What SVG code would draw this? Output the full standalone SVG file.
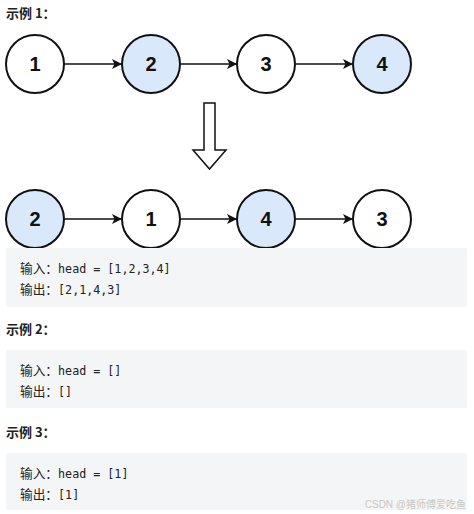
<svg xmlns="http://www.w3.org/2000/svg" width="474" height="514" viewBox="0 0 474 514">
<defs>
<style>
.h{font-family:"Noto Sans CJK SC","Liberation Sans",sans-serif;font-weight:bold;font-size:13px;fill:#222}
.n{stroke:#111;stroke-width:2}
.w{fill:#fff}
.b{fill:#dae8fc}
.nt{font-family:"Liberation Sans",Arial,sans-serif;font-weight:bold;font-size:20px;fill:#111;text-anchor:middle}
.e{stroke:#111;stroke-width:1.5;fill:none;marker-end:url(#ah)}
.box{fill:#f4f5f6}
.c{font-family:"DejaVu Sans Mono","Noto Sans CJK SC",monospace;font-size:11.7px;fill:#222}
.cj{font-family:"Noto Sans CJK SC",sans-serif;font-size:12.7px}
.wm{font-family:"Liberation Sans","Noto Sans CJK SC",sans-serif;font-size:10px;fill:#c8c8c8;text-anchor:end}
</style>
<marker id="ah" markerWidth="10" markerHeight="10" refX="9" refY="5" orient="auto" markerUnits="userSpaceOnUse">
<path d="M0,0 L10,5 L0,10 L2.5,5 z" fill="#111"/>
</marker>
</defs>
<rect width="474" height="514" fill="#fff"/>
<text class="h" x="6" y="18">示例 1：</text>
<g id="connectors">
<line class="e" x1="64" y1="64" x2="121" y2="64"/>
<line class="e" x1="181" y1="64" x2="236" y2="64"/>
<line class="e" x1="296" y1="64" x2="352" y2="64"/>
<line class="e" x1="64" y1="219" x2="121" y2="219"/>
<line class="e" x1="181" y1="219" x2="236" y2="219"/>
<line class="e" x1="296" y1="219" x2="352" y2="219"/>
</g>
<g id="t1"><circle class="n w" cx="35" cy="64" r="29"/><text class="nt" x="35" y="71">1</text></g>
<g id="t2"><circle class="n b" cx="151" cy="64" r="29"/><text class="nt" x="151" y="71">2</text></g>
<g id="t3"><circle class="n w" cx="266" cy="64" r="29"/><text class="nt" x="266" y="71">3</text></g>
<g id="t4"><circle class="n b" cx="382" cy="64" r="29"/><text class="nt" x="382" y="71">4</text></g>
<g id="bigarrow"><path d="M204,103 H215 V150 H226 L209.5,169 L193,150 H204 Z" fill="#fff" stroke="#111" stroke-width="1.5"/></g>
<g id="b1"><circle class="n b" cx="35" cy="219" r="29"/><text class="nt" x="35" y="226">2</text></g>
<g id="b2"><circle class="n w" cx="151" cy="219" r="29"/><text class="nt" x="151" y="226">1</text></g>
<g id="b3"><circle class="n b" cx="266" cy="219" r="29"/><text class="nt" x="266" y="226">4</text></g>
<g id="b4"><circle class="n w" cx="382" cy="219" r="29"/><text class="nt" x="382" y="226">3</text></g>
<rect class="box" x="6" y="248" width="461" height="59" rx="2"/>
<text class="c" x="20" y="273"><tspan class="cj">输入：</tspan>head = [1,2,3,4]</text>
<text class="c" x="20" y="294"><tspan class="cj">输出：</tspan>[2,1,4,3]</text>
<text class="h" x="6" y="334">示例 2：</text>
<rect class="box" x="6" y="350" width="461" height="58" rx="2"/>
<text class="c" x="20" y="375"><tspan class="cj">输入：</tspan>head = []</text>
<text class="c" x="20" y="396"><tspan class="cj">输出：</tspan>[]</text>
<text class="h" x="6" y="437">示例 3：</text>
<rect class="box" x="6" y="453" width="461" height="57" rx="2"/>
<text class="c" x="20" y="478"><tspan class="cj">输入：</tspan>head = [1]</text>
<text class="c" x="20" y="499"><tspan class="cj">输出：</tspan>[1]</text>
<text class="wm" x="466" y="508">CSDN @猪师傅爱吃鱼</text>
</svg>
